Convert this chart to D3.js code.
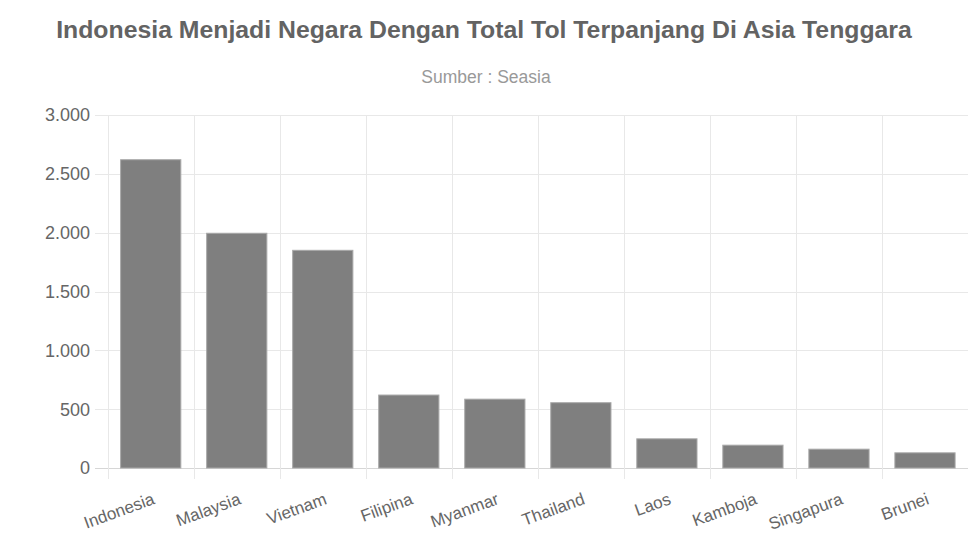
<!DOCTYPE html>
<html>
<head>
<meta charset="utf-8">
<script src="https://cdn.jsdelivr.net/npm/d3@7"></script>
<style>
  html, body { margin: 0; padding: 0; background: #fff; }
  svg { display: block; font-family: "Liberation Sans", Arial, sans-serif; }
</style>
</head>
<body>
<div id="chart"></div>
<script>
  // data (km jalan tol)
  const negara = ["Indonesia", "Malaysia", "Vietnam", "Filipina", "Myanmar",
                  "Thailand", "Laos", "Kamboja", "Singapura", "Brunei"];
  const panjangTol = [2620, 1995, 1850, 620, 585, 555, 248, 194, 160, 129];
  const yTicks = [0, 500, 1000, 1500, 2000, 2500, 3000];

  const W = 968, H = 543;
  const m = { top: 115, right: 0, bottom: 75, left: 107.7 };

  const svg = d3.select("#chart").append("svg")
    .attr("width", W).attr("height", H);

  // judul
  svg.append("text")
    .attr("x", 484).attr("y", 38)
    .attr("text-anchor", "middle")
    .attr("fill", "#636363")
    .attr("font-size", "24.8px")
    .attr("font-weight", "bold")
    .text("Indonesia Menjadi Negara Dengan Total Tol Terpanjang Di Asia Tenggara");

  svg.append("text")
    .attr("x", 486).attr("y", 83)
    .attr("text-anchor", "middle")
    .attr("fill", "#999")
    .attr("font-size", "17.5px")
    .text("Sumber : Seasia");

  const x = d3.scaleBand()
    .domain(negara)
    .range([m.left, W - m.right])
    .paddingInner(0.3)
    .paddingOuter(0.15);

  const y = d3.scaleLinear()
    .domain([0, 3000])
    .range([468, m.top]);

  const fmt = v => d3.format(",")(v).replace(/,/g, ".");

  // grid horizontal
  const g = svg.append("g");
  g.selectAll("line.h")
    .data(yTicks)
    .join("line")
    .attr("x1", 95).attr("x2", W)
    .attr("y1", d => Math.round(y(d)) + 0.5)
    .attr("y2", d => Math.round(y(d)) + 0.5)
    .attr("stroke", d => d === 0 ? "#d6d6d6" : "#e8e8e8")
    .attr("stroke-width", 1);

  // grid vertical (batas kategori)
  const batas = d3.range(negara.length + 1).map(i => m.left + i * (W - m.left) / negara.length);
  g.selectAll("line.v")
    .data(batas)
    .join("line")
    .attr("x1", d => Math.round(d) + 0.5).attr("x2", d => Math.round(d) + 0.5)
    .attr("y1", m.top).attr("y2", 479)
    .attr("stroke", "#e8e8e8")
    .attr("stroke-width", 1);

  // label sumbu Y
  svg.append("g").selectAll("text")
    .data(yTicks)
    .join("text")
    .attr("x", 90)
    .attr("y", d => y(d))
    .attr("dy", "0.36em")
    .attr("text-anchor", "end")
    .attr("fill", "#666")
    .attr("font-size", "18px")
    .text(fmt);

  // batang
  svg.append("g").selectAll("rect")
    .data(negara)
    .join("rect")
    .attr("x", d => x(d))
    .attr("width", x.bandwidth())
    .attr("y", (d, i) => y(panjangTol[i]))
    .attr("height", (d, i) => y(0) - y(panjangTol[i]))
    .attr("fill", "#7f7f7f")
    .attr("stroke", "#a9a9a9")
    .attr("stroke-width", 1);

  // label sumbu X (miring)
  svg.append("g").selectAll("text")
    .data(negara)
    .join("text")
    .attr("transform", d => `translate(${x(d) + x.bandwidth() / 2 + 3},${498}) rotate(-20)`)
    .attr("text-anchor", "end")
    .attr("dy", "0.35em")
    .attr("fill", "#666")
    .attr("font-size", "17px")
    .text(d => d);
</script>
</body>
</html>
